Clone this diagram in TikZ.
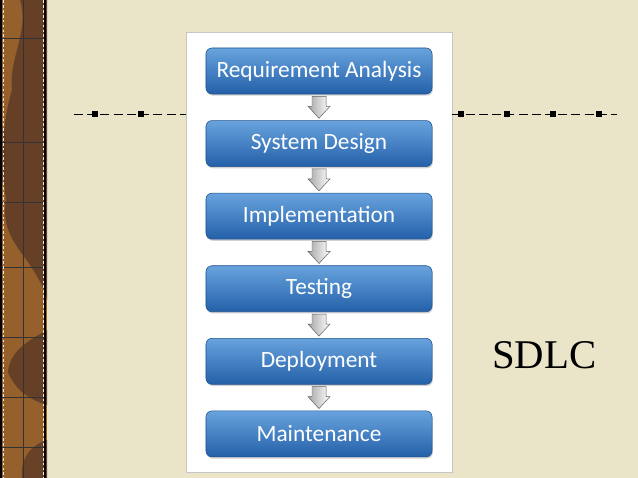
\documentclass[tikz,border=0pt]{standalone}
\usepackage{fontspec}
\setmainfont{Liberation Serif}
\newfontfamily\boxfont{Carlito}
\usetikzlibrary{positioning,shadows,calc}

\definecolor{paper}{RGB}{234,228,200}
\definecolor{leather}{RGB}{150,96,44}
\definecolor{darkleather}{RGB}{96,60,38}
\definecolor{boxtop}{RGB}{104,163,222}
\definecolor{boxbottom}{RGB}{36,96,168}

\tikzset{
  stage/.style={rounded corners=0.15cm, top color=boxtop, bottom color=boxbottom,
    draw=boxbottom!85!black, minimum width=5.65cm, minimum height=1.15cm, inner sep=0pt,
    text=white, font=\boxfont\fontsize{16.6}{18}\selectfont,
    drop shadow={opacity=0.35, shadow xshift=0.6pt, shadow yshift=-1.2pt}},
  downarrow/.style={left color=gray!70, right color=white, draw=gray!75!black, line width=0.35pt},
  panel/.style={fill=white, draw=gray!45, line width=0.6pt, minimum width=6.65cm, minimum height=11cm},
  dashrule/.style={line width=0.7pt, dash pattern=on 6.4pt off 3pt},
  tick/.style={fill=black, inner sep=0pt, minimum size=4pt}
}

\begin{document}
\begin{tikzpicture}[x=0.025cm, y=-0.025cm]
  \useasboundingbox (0,0) rectangle (638,478);
  \fill[paper] (0,0) rectangle (638,478);

  % leather strip on the left
  \fill[leather] (0,0) rectangle (47,478);
  \begin{scope}
    \clip (0,0) rectangle (47,478);
    \fill[darkleather, opacity=0.9] (20,0) .. controls (30,30) and (8,60) .. (12,90)
       .. controls (0,130) and (2,170) .. (6,200) .. controls (0,230) and (20,250) .. (28,262)
       .. controls (40,280) and (45,290) .. (47,300) -- (47,0) -- cycle;
    \fill[darkleather, opacity=0.9] (47,330) .. controls (30,340) and (10,350) .. (8,372)
       .. controls (15,390) and (30,400) .. (47,405) -- cycle;
    \fill[darkleather, opacity=0.85] (47,440) .. controls (30,445) and (20,460) .. (22,478)
       -- (47,478) -- cycle;
    \fill[darkleather, opacity=0.6] (0,120) .. controls (10,140) and (8,170) .. (0,190) -- cycle;
  \end{scope}
  \foreach \y in {38,142,202,267,337,397,447}
    \draw[black!80, line width=0.4pt] (2,\y) -- (45,\y);
  \draw[black!80, line width=0.4pt] (23,0) -- (23,478);
  \draw[black, line width=0.8pt] (1,0) -- (1,478) (45,0) -- (45,478);
  \draw[white!85!brown, line width=0.5pt, dash pattern=on 2pt off 1.5pt] (3,0) -- (3,478) (43,0) -- (43,478);

  % dashed rule behind the panel
  \coordinate (dl) at (74,114);
  \coordinate (dr) at (617,114);
  \node[panel] (panel) at (319,252) {};
  \draw[dashrule] (dl) -- (dl -| panel.west);
  \draw[dashrule] (panel.east |- dr) -- (dr);
  \foreach \x in {95,141,461,507,553,599}
    \node[tick] at (\x,114) {};

  % stages
  \node[stage] (req) at (319,71) {Requirement Analysis};
  \node[stage, below=0.65cm of req] (des) {System Design};
  \node[stage, below=0.65cm of des] (imp) {Implementation};
  \node[stage, below=0.65cm of imp] (tst) {Testing};
  \node[stage, below=0.65cm of tst] (dep) {Deployment};
  \node[stage, below=0.65cm of dep] (mnt) {Maintenance};

  % block arrows between the stages
  \foreach \a/\b [count=\i] in {req/des,des/imp,imp/tst,tst/dep,dep/mnt}{
    \coordinate (arr\i) at ($(\a.south)!0.5!(\b.north)$);
    \draw[downarrow] ($(arr\i)+(-7,-11)$) -- ($(arr\i)+(7,-11)$) -- ($(arr\i)+(7,-1)$)
      -- ($(arr\i)+(11,-1)$) -- ($(arr\i)+(0,11)$) -- ($(arr\i)+(-11,-1)$)
      -- ($(arr\i)+(-7,-1)$) -- cycle;
  }

  \node[anchor=base west, inner sep=0pt, font=\fontsize{29}{32}\selectfont] (title) at (492,368) {SDLC};
\end{tikzpicture}
\end{document}
